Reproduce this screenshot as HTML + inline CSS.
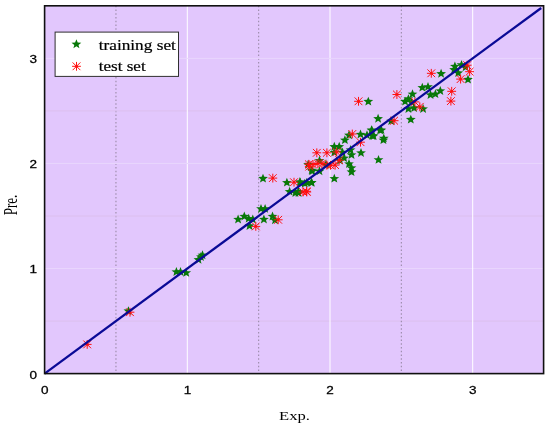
<!DOCTYPE html>
<html><head><meta charset="utf-8"><title>Exp. vs Pre.</title>
<style>html,body{margin:0;padding:0;background:#fff}svg{display:block}text{fill:#000}</style></head><body>
<svg width="550" height="428" viewBox="0 0 550 428">
<rect width="550" height="428" fill="#fff"/>
<rect x="44.60" y="5.80" width="499.00" height="367.80" fill="#E2C7FD"/>
<line x1="115.95" y1="5.80" x2="115.95" y2="373.60" stroke="#9a8aa8" stroke-width="1.1" stroke-dasharray="1.4 2.35"/>
<line x1="44.60" y1="321.07" x2="543.60" y2="321.07" stroke="#dcbfee" stroke-width="1"/>
<line x1="258.65" y1="5.80" x2="258.65" y2="373.60" stroke="#9a8aa8" stroke-width="1.1" stroke-dasharray="1.4 2.35"/>
<line x1="44.60" y1="216.00" x2="543.60" y2="216.00" stroke="#dcbfee" stroke-width="1"/>
<line x1="401.35" y1="5.80" x2="401.35" y2="373.60" stroke="#9a8aa8" stroke-width="1.1" stroke-dasharray="1.4 2.35"/>
<line x1="44.60" y1="110.93" x2="543.60" y2="110.93" stroke="#dcbfee" stroke-width="1"/>
<line x1="187.30" y1="5.80" x2="187.30" y2="373.60" stroke="#ffffff" stroke-width="1"/>
<line x1="44.60" y1="268.53" x2="543.60" y2="268.53" stroke="#e9d6fd" stroke-width="1"/>
<line x1="330.00" y1="5.80" x2="330.00" y2="373.60" stroke="#ffffff" stroke-width="1"/>
<line x1="44.60" y1="163.46" x2="543.60" y2="163.46" stroke="#e9d6fd" stroke-width="1"/>
<line x1="472.70" y1="5.80" x2="472.70" y2="373.60" stroke="#ffffff" stroke-width="1"/>
<line x1="44.60" y1="58.39" x2="543.60" y2="58.39" stroke="#e9d6fd" stroke-width="1"/>
<g fill="#087808">
<polygon points="128.40,306.15 129.70,309.35 133.29,309.54 130.50,311.70 131.42,315.01 128.40,313.16 125.38,315.01 126.30,311.70 123.51,309.54 127.10,309.35"/>
<polygon points="176.40,267.05 177.70,270.25 181.29,270.44 178.50,272.60 179.42,275.91 176.40,274.06 173.38,275.91 174.30,272.60 171.51,270.44 175.10,270.25"/>
<polygon points="180.50,267.05 181.80,270.25 185.39,270.44 182.60,272.60 183.52,275.91 180.50,274.06 177.48,275.91 178.40,272.60 175.61,270.44 179.20,270.25"/>
<polygon points="186.20,267.95 187.50,271.15 191.09,271.34 188.30,273.50 189.22,276.81 186.20,274.96 183.18,276.81 184.10,273.50 181.31,271.34 184.90,271.15"/>
<polygon points="198.50,254.85 199.80,258.05 203.39,258.24 200.60,260.40 201.52,263.71 198.50,261.86 195.48,263.71 196.40,260.40 193.61,258.24 197.20,258.05"/>
<polygon points="200.90,252.05 202.20,255.25 205.79,255.44 203.00,257.60 203.92,260.91 200.90,259.06 197.88,260.91 198.80,257.60 196.01,255.44 199.60,255.25"/>
<polygon points="202.50,250.35 203.80,253.55 207.39,253.74 204.60,255.90 205.52,259.21 202.50,257.36 199.48,259.21 200.40,255.90 197.61,253.74 201.20,253.55"/>
<polygon points="263.00,173.65 264.30,176.85 267.89,177.04 265.10,179.20 266.02,182.51 263.00,180.66 259.98,182.51 260.90,179.20 258.11,177.04 261.70,176.85"/>
<polygon points="286.90,177.75 288.20,180.95 291.79,181.14 289.00,183.30 289.92,186.61 286.90,184.76 283.88,186.61 284.80,183.30 282.01,181.14 285.60,180.95"/>
<polygon points="300.30,177.75 301.60,180.95 305.19,181.14 302.40,183.30 303.32,186.61 300.30,184.76 297.28,186.61 298.20,183.30 295.41,181.14 299.00,180.95"/>
<polygon points="306.80,177.75 308.10,180.95 311.69,181.14 308.90,183.30 309.82,186.61 306.80,184.76 303.78,186.61 304.70,183.30 301.91,181.14 305.50,180.95"/>
<polygon points="311.70,177.75 313.00,180.95 316.59,181.14 313.80,183.30 314.72,186.61 311.70,184.76 308.68,186.61 309.60,183.30 306.81,181.14 310.40,180.95"/>
<polygon points="289.60,186.75 290.90,189.95 294.49,190.14 291.70,192.30 292.62,195.61 289.60,193.76 286.58,195.61 287.50,192.30 284.71,190.14 288.30,189.95"/>
<polygon points="295.40,188.05 296.70,191.25 300.29,191.44 297.50,193.60 298.42,196.91 295.40,195.06 292.38,196.91 293.30,193.60 290.51,191.44 294.10,191.25"/>
<polygon points="298.60,188.05 299.90,191.25 303.49,191.44 300.70,193.60 301.62,196.91 298.60,195.06 295.58,196.91 296.50,193.60 293.71,191.44 297.30,191.25"/>
<polygon points="261.00,203.95 262.30,207.15 265.89,207.34 263.10,209.50 264.02,212.81 261.00,210.96 257.98,212.81 258.90,209.50 256.11,207.34 259.70,207.15"/>
<polygon points="265.10,203.95 266.40,207.15 269.99,207.34 267.20,209.50 268.12,212.81 265.10,210.96 262.08,212.81 263.00,209.50 260.21,207.34 263.80,207.15"/>
<polygon points="238.10,214.55 239.40,217.75 242.99,217.94 240.20,220.10 241.12,223.41 238.10,221.56 235.08,223.41 236.00,220.10 233.21,217.94 236.80,217.75"/>
<polygon points="244.30,211.55 245.60,214.75 249.19,214.94 246.40,217.10 247.32,220.41 244.30,218.56 241.28,220.41 242.20,217.10 239.41,214.94 243.00,214.75"/>
<polygon points="248.70,213.75 250.00,216.95 253.59,217.14 250.80,219.30 251.72,222.61 248.70,220.76 245.68,222.61 246.60,219.30 243.81,217.14 247.40,216.95"/>
<polygon points="252.80,214.55 254.10,217.75 257.69,217.94 254.90,220.10 255.82,223.41 252.80,221.56 249.78,223.41 250.70,220.10 247.91,217.94 251.50,217.75"/>
<polygon points="249.50,221.05 250.80,224.25 254.39,224.44 251.60,226.60 252.52,229.91 249.50,228.06 246.48,229.91 247.40,226.60 244.61,224.44 248.20,224.25"/>
<polygon points="263.90,214.55 265.20,217.75 268.79,217.94 266.00,220.10 266.92,223.41 263.90,221.56 260.88,223.41 261.80,220.10 259.01,217.94 262.60,217.75"/>
<polygon points="272.50,211.55 273.80,214.75 277.39,214.94 274.60,217.10 275.52,220.41 272.50,218.56 269.48,220.41 270.40,217.10 267.61,214.94 271.20,214.75"/>
<polygon points="275.00,215.35 276.30,218.55 279.89,218.74 277.10,220.90 278.02,224.21 275.00,222.36 271.98,224.21 272.90,220.90 270.11,218.74 273.70,218.55"/>
<polygon points="311.70,165.45 313.00,168.65 316.59,168.84 313.80,171.00 314.72,174.31 311.70,172.46 308.68,174.31 309.60,171.00 306.81,168.84 310.40,168.65"/>
<polygon points="344.90,135.25 346.20,138.45 349.79,138.64 347.00,140.80 347.92,144.11 344.90,142.26 341.88,144.11 342.80,140.80 340.01,138.64 343.60,138.45"/>
<polygon points="349.00,130.35 350.30,133.55 353.89,133.74 351.10,135.90 352.02,139.21 349.00,137.36 345.98,139.21 346.90,135.90 344.11,133.74 347.70,133.55"/>
<polygon points="360.50,129.55 361.80,132.75 365.39,132.94 362.60,135.10 363.52,138.41 360.50,136.56 357.48,138.41 358.40,135.10 355.61,132.94 359.20,132.75"/>
<polygon points="367.00,130.35 368.30,133.55 371.89,133.74 369.10,135.90 370.02,139.21 367.00,137.36 363.98,139.21 364.90,135.90 362.11,133.74 365.70,133.55"/>
<polygon points="371.90,125.45 373.20,128.65 376.79,128.84 374.00,131.00 374.92,134.31 371.90,132.46 368.88,134.31 369.80,131.00 367.01,128.84 370.60,128.65"/>
<polygon points="373.60,131.15 374.90,134.35 378.49,134.54 375.70,136.70 376.62,140.01 373.60,138.16 370.58,140.01 371.50,136.70 368.71,134.54 372.30,134.35"/>
<polygon points="380.10,125.45 381.40,128.65 384.99,128.84 382.20,131.00 383.12,134.31 380.10,132.46 377.08,134.31 378.00,131.00 375.21,128.84 378.80,128.65"/>
<polygon points="383.40,135.25 384.70,138.45 388.29,138.64 385.50,140.80 386.42,144.11 383.40,142.26 380.38,144.11 381.30,140.80 378.51,138.64 382.10,138.45"/>
<polygon points="334.30,141.85 335.60,145.05 339.19,145.24 336.40,147.40 337.32,150.71 334.30,148.86 331.28,150.71 332.20,147.40 329.41,145.24 333.00,145.05"/>
<polygon points="339.20,141.85 340.50,145.05 344.09,145.24 341.30,147.40 342.22,150.71 339.20,148.86 336.18,150.71 337.10,147.40 334.31,145.24 337.90,145.05"/>
<polygon points="334.30,147.55 335.60,150.75 339.19,150.94 336.40,153.10 337.32,156.41 334.30,154.56 331.28,156.41 332.20,153.10 329.41,150.94 333.00,150.75"/>
<polygon points="350.60,145.05 351.90,148.25 355.49,148.44 352.70,150.60 353.62,153.91 350.60,152.06 347.58,153.91 348.50,150.60 345.71,148.44 349.30,148.25"/>
<polygon points="351.50,150.05 352.80,153.25 356.39,153.44 353.60,155.60 354.52,158.91 351.50,157.06 348.48,158.91 349.40,155.60 346.61,153.44 350.20,153.25"/>
<polygon points="361.00,148.05 362.30,151.25 365.89,151.44 363.10,153.60 364.02,156.91 361.00,155.06 357.98,156.91 358.90,153.60 356.11,151.44 359.70,151.25"/>
<polygon points="378.50,154.95 379.80,158.15 383.39,158.34 380.60,160.50 381.52,163.81 378.50,161.96 375.48,163.81 376.40,160.50 373.61,158.34 377.20,158.15"/>
<polygon points="349.00,159.05 350.30,162.25 353.89,162.44 351.10,164.60 352.02,167.91 349.00,166.06 345.98,167.91 346.90,164.60 344.11,162.44 347.70,162.25"/>
<polygon points="351.50,163.05 352.80,166.25 356.39,166.44 353.60,168.60 354.52,171.91 351.50,170.06 348.48,171.91 349.40,168.60 346.61,166.44 350.20,166.25"/>
<polygon points="351.50,167.15 352.80,170.35 356.39,170.54 353.60,172.70 354.52,176.01 351.50,174.16 348.48,176.01 349.40,172.70 346.61,170.54 350.20,170.35"/>
<polygon points="334.30,173.75 335.60,176.95 339.19,177.14 336.40,179.30 337.32,182.61 334.30,180.76 331.28,182.61 332.20,179.30 329.41,177.14 333.00,176.95"/>
<polygon points="308.10,159.85 309.40,163.05 312.99,163.24 310.20,165.40 311.12,168.71 308.10,166.86 305.08,168.71 306.00,165.40 303.21,163.24 306.80,163.05"/>
<polygon points="312.20,166.35 313.50,169.55 317.09,169.74 314.30,171.90 315.22,175.21 312.20,173.36 309.18,175.21 310.10,171.90 307.31,169.74 310.90,169.55"/>
<polygon points="319.50,155.75 320.80,158.95 324.39,159.14 321.60,161.30 322.52,164.61 319.50,162.76 316.48,164.61 317.40,161.30 314.61,159.14 318.20,158.95"/>
<polygon points="319.50,166.35 320.80,169.55 324.39,169.74 321.60,171.90 322.52,175.21 319.50,173.36 316.48,175.21 317.40,171.90 314.61,169.74 318.20,169.55"/>
<polygon points="311.40,177.85 312.70,181.05 316.29,181.24 313.50,183.40 314.42,186.71 311.40,184.86 308.38,186.71 309.30,183.40 306.51,181.24 310.10,181.05"/>
<polygon points="304.80,178.65 306.10,181.85 309.69,182.04 306.90,184.20 307.82,187.51 304.80,185.66 301.78,187.51 302.70,184.20 299.91,182.04 303.50,181.85"/>
<polygon points="299.90,177.05 301.20,180.25 304.79,180.44 302.00,182.60 302.92,185.91 299.90,184.06 296.88,185.91 297.80,182.60 295.01,180.44 298.60,180.25"/>
<polygon points="298.30,186.85 299.60,190.05 303.19,190.24 300.40,192.40 301.32,195.71 298.30,193.86 295.28,195.71 296.20,192.40 293.41,190.24 297.00,190.05"/>
<polygon points="344.10,153.25 345.40,156.45 348.99,156.64 346.20,158.80 347.12,162.11 344.10,160.26 341.08,162.11 342.00,158.80 339.21,156.64 342.80,156.45"/>
<polygon points="342.50,147.55 343.80,150.75 347.39,150.94 344.60,153.10 345.52,156.41 342.50,154.56 339.48,156.41 340.40,153.10 337.61,150.94 341.20,150.75"/>
<polygon points="340.00,155.75 341.30,158.95 344.89,159.14 342.10,161.30 343.02,164.61 340.00,162.76 336.98,164.61 337.90,161.30 335.11,159.14 338.70,158.95"/>
<polygon points="326.00,159.85 327.30,163.05 330.89,163.24 328.10,165.40 329.02,168.71 326.00,166.86 322.98,168.71 323.90,165.40 321.11,163.24 324.70,163.05"/>
<polygon points="368.30,96.65 369.60,99.85 373.19,100.04 370.40,102.20 371.32,105.51 368.30,103.66 365.28,105.51 366.20,102.20 363.41,100.04 367.00,99.85"/>
<polygon points="378.10,113.85 379.40,117.05 382.99,117.24 380.20,119.40 381.12,122.71 378.10,120.86 375.08,122.71 376.00,119.40 373.21,117.24 376.80,117.05"/>
<polygon points="371.50,125.25 372.80,128.45 376.39,128.64 373.60,130.80 374.52,134.11 371.50,132.26 368.48,134.11 369.40,130.80 366.61,128.64 370.20,128.45"/>
<polygon points="381.40,125.25 382.70,128.45 386.29,128.64 383.50,130.80 384.42,134.11 381.40,132.26 378.38,134.11 379.30,130.80 376.51,128.64 380.10,128.45"/>
<polygon points="372.40,131.05 373.70,134.25 377.29,134.44 374.50,136.60 375.42,139.91 372.40,138.06 369.38,139.91 370.30,136.60 367.51,134.44 371.10,134.25"/>
<polygon points="383.80,133.45 385.10,136.65 388.69,136.84 385.90,139.00 386.82,142.31 383.80,140.46 380.78,142.31 381.70,139.00 378.91,136.84 382.50,136.65"/>
<polygon points="391.20,116.25 392.50,119.45 396.09,119.64 393.30,121.80 394.22,125.11 391.20,123.26 388.18,125.11 389.10,121.80 386.31,119.64 389.90,119.45"/>
<polygon points="410.80,114.65 412.10,117.85 415.69,118.04 412.90,120.20 413.82,123.51 410.80,121.66 407.78,123.51 408.70,120.20 405.91,118.04 409.50,117.85"/>
<polygon points="405.10,96.65 406.40,99.85 409.99,100.04 407.20,102.20 408.12,105.51 405.10,103.66 402.08,105.51 403.00,102.20 400.21,100.04 403.80,99.85"/>
<polygon points="408.40,94.15 409.70,97.35 413.29,97.54 410.50,99.70 411.42,103.01 408.40,101.16 405.38,103.01 406.30,99.70 403.51,97.54 407.10,97.35"/>
<polygon points="412.50,89.25 413.80,92.45 417.39,92.64 414.60,94.80 415.52,98.11 412.50,96.26 409.48,98.11 410.40,94.80 407.61,92.64 411.20,92.45"/>
<polygon points="411.60,97.45 412.90,100.65 416.49,100.84 413.70,103.00 414.62,106.31 411.60,104.46 408.58,106.31 409.50,103.00 406.71,100.84 410.30,100.65"/>
<polygon points="408.40,104.05 409.70,107.25 413.29,107.44 410.50,109.60 411.42,112.91 408.40,111.06 405.38,112.91 406.30,109.60 403.51,107.44 407.10,107.25"/>
<polygon points="414.10,103.15 415.40,106.35 418.99,106.54 416.20,108.70 417.12,112.01 414.10,110.16 411.08,112.01 412.00,108.70 409.21,106.54 412.80,106.35"/>
<polygon points="423.10,104.05 424.40,107.25 427.99,107.44 425.20,109.60 426.12,112.91 423.10,111.06 420.08,112.91 421.00,109.60 418.21,107.44 421.80,107.25"/>
<polygon points="422.30,82.75 423.60,85.95 427.19,86.14 424.40,88.30 425.32,91.61 422.30,89.76 419.28,91.61 420.20,88.30 417.41,86.14 421.00,85.95"/>
<polygon points="428.00,81.95 429.30,85.15 432.89,85.34 430.10,87.50 431.02,90.81 428.00,88.96 424.98,90.81 425.90,87.50 423.11,85.34 426.70,85.15"/>
<polygon points="430.50,90.05 431.80,93.25 435.39,93.44 432.60,95.60 433.52,98.91 430.50,97.06 427.48,98.91 428.40,95.60 425.61,93.44 429.20,93.25"/>
<polygon points="435.40,89.25 436.70,92.45 440.29,92.64 437.50,94.80 438.42,98.11 435.40,96.26 432.38,98.11 433.30,94.80 430.51,92.64 434.10,92.45"/>
<polygon points="440.30,86.05 441.60,89.25 445.19,89.44 442.40,91.60 443.32,94.91 440.30,93.06 437.28,94.91 438.20,91.60 435.41,89.44 439.00,89.25"/>
<polygon points="441.10,68.85 442.40,72.05 445.99,72.24 443.20,74.40 444.12,77.71 441.10,75.86 438.08,77.71 439.00,74.40 436.21,72.24 439.80,72.05"/>
<polygon points="454.90,61.55 456.20,64.75 459.79,64.94 457.00,67.10 457.92,70.41 454.90,68.56 451.88,70.41 452.80,67.10 450.01,64.94 453.60,64.75"/>
<polygon points="461.50,59.95 462.80,63.15 466.39,63.34 463.60,65.50 464.52,68.81 461.50,66.96 458.48,68.81 459.40,65.50 456.61,63.34 460.20,63.15"/>
<polygon points="454.10,64.85 455.40,68.05 458.99,68.24 456.20,70.40 457.12,73.71 454.10,71.86 451.08,73.71 452.00,70.40 449.21,68.24 452.80,68.05"/>
<polygon points="458.20,68.15 459.50,71.35 463.09,71.54 460.30,73.70 461.22,77.01 458.20,75.16 455.18,77.01 456.10,73.70 453.31,71.54 456.90,71.35"/>
<polygon points="468.00,74.65 469.30,77.85 472.89,78.04 470.10,80.20 471.02,83.51 468.00,81.66 464.98,83.51 465.90,80.20 463.11,78.04 466.70,77.85"/>
<polygon points="465.60,62.35 466.90,65.55 470.49,65.74 467.70,67.90 468.62,71.21 465.60,69.36 462.58,71.21 463.50,67.90 460.71,65.74 464.30,65.55"/>
</g>
<g stroke="#ff1010" stroke-width="1" fill="none">
<path d="M82.80 344.40H91.60M87.20 340.00V348.80M83.33 340.53L91.07 348.27M83.33 348.27L91.07 340.53"/><circle cx="87.20" cy="344.40" r="1.3" fill="#ff1010" stroke="none"/>
<path d="M125.60 312.20H134.40M130.00 307.80V316.60M126.13 308.33L133.87 316.07M126.13 316.07L133.87 308.33"/><circle cx="130.00" cy="312.20" r="1.3" fill="#ff1010" stroke="none"/>
<path d="M268.40 178.10H277.20M272.80 173.70V182.50M268.93 174.23L276.67 181.97M268.93 181.97L276.67 174.23"/><circle cx="272.80" cy="178.10" r="1.3" fill="#ff1010" stroke="none"/>
<path d="M289.60 182.20H298.40M294.00 177.80V186.60M290.13 178.33L297.87 186.07M290.13 186.07L297.87 178.33"/><circle cx="294.00" cy="182.20" r="1.3" fill="#ff1010" stroke="none"/>
<path d="M302.40 192.00H311.20M306.80 187.60V196.40M302.93 188.13L310.67 195.87M302.93 195.87L310.67 188.13"/><circle cx="306.80" cy="192.00" r="1.3" fill="#ff1010" stroke="none"/>
<path d="M298.60 192.00H307.40M303.00 187.60V196.40M299.13 188.13L306.87 195.87M299.13 195.87L306.87 188.13"/><circle cx="303.00" cy="192.00" r="1.3" fill="#ff1010" stroke="none"/>
<path d="M273.80 219.80H282.60M278.20 215.40V224.20M274.33 215.93L282.07 223.67M274.33 223.67L282.07 215.93"/><circle cx="278.20" cy="219.80" r="1.3" fill="#ff1010" stroke="none"/>
<path d="M251.40 226.40H260.20M255.80 222.00V230.80M251.93 222.53L259.67 230.27M251.93 230.27L259.67 222.53"/><circle cx="255.80" cy="226.40" r="1.3" fill="#ff1010" stroke="none"/>
<path d="M304.90 166.60H313.70M309.30 162.20V171.00M305.43 162.73L313.17 170.47M305.43 170.47L313.17 162.73"/><circle cx="309.30" cy="166.60" r="1.3" fill="#ff1010" stroke="none"/>
<path d="M347.90 134.00H356.70M352.30 129.60V138.40M348.43 130.13L356.17 137.87M348.43 137.87L356.17 130.13"/><circle cx="352.30" cy="134.00" r="1.3" fill="#ff1010" stroke="none"/>
<path d="M356.10 142.20H364.90M360.50 137.80V146.60M356.63 138.33L364.37 146.07M356.63 146.07L364.37 138.33"/><circle cx="360.50" cy="142.20" r="1.3" fill="#ff1010" stroke="none"/>
<path d="M312.40 152.80H321.20M316.80 148.40V157.20M312.93 148.93L320.67 156.67M312.93 156.67L320.67 148.93"/><circle cx="316.80" cy="152.80" r="1.3" fill="#ff1010" stroke="none"/>
<path d="M322.50 152.80H331.30M326.90 148.40V157.20M323.03 148.93L330.77 156.67M323.03 156.67L330.77 148.93"/><circle cx="326.90" cy="152.80" r="1.3" fill="#ff1010" stroke="none"/>
<path d="M332.30 152.00H341.10M336.70 147.60V156.40M332.83 148.13L340.57 155.87M332.83 155.87L340.57 148.13"/><circle cx="336.70" cy="152.00" r="1.3" fill="#ff1010" stroke="none"/>
<path d="M304.50 164.30H313.30M308.90 159.90V168.70M305.03 160.43L312.77 168.17M305.03 168.17L312.77 160.43"/><circle cx="308.90" cy="164.30" r="1.3" fill="#ff1010" stroke="none"/>
<path d="M313.50 163.50H322.30M317.90 159.10V167.90M314.03 159.63L321.77 167.37M314.03 167.37L321.77 159.63"/><circle cx="317.90" cy="163.50" r="1.3" fill="#ff1010" stroke="none"/>
<path d="M322.50 165.10H331.30M326.90 160.70V169.50M323.03 161.23L330.77 168.97M323.03 168.97L330.77 161.23"/><circle cx="326.90" cy="165.10" r="1.3" fill="#ff1010" stroke="none"/>
<path d="M330.70 165.10H339.50M335.10 160.70V169.50M331.23 161.23L338.97 168.97M331.23 168.97L338.97 161.23"/><circle cx="335.10" cy="165.10" r="1.3" fill="#ff1010" stroke="none"/>
<path d="M334.80 160.20H343.60M339.20 155.80V164.60M335.33 156.33L343.07 164.07M335.33 164.07L343.07 156.33"/><circle cx="339.20" cy="160.20" r="1.3" fill="#ff1010" stroke="none"/>
<path d="M302.10 191.30H310.90M306.50 186.90V195.70M302.63 187.43L310.37 195.17M302.63 195.17L310.37 187.43"/><circle cx="306.50" cy="191.30" r="1.3" fill="#ff1010" stroke="none"/>
<path d="M308.60 164.50H317.40M313.00 160.10V168.90M309.13 160.63L316.87 168.37M309.13 168.37L316.87 160.63"/><circle cx="313.00" cy="164.50" r="1.3" fill="#ff1010" stroke="none"/>
<path d="M317.60 163.60H326.40M322.00 159.20V168.00M318.13 159.73L325.87 167.47M318.13 167.47L325.87 159.73"/><circle cx="322.00" cy="163.60" r="1.3" fill="#ff1010" stroke="none"/>
<path d="M326.10 165.30H334.90M330.50 160.90V169.70M326.63 161.43L334.37 169.17M326.63 169.17L334.37 161.43"/><circle cx="330.50" cy="165.30" r="1.3" fill="#ff1010" stroke="none"/>
<path d="M392.50 94.50H401.30M396.90 90.10V98.90M393.03 90.63L400.77 98.37M393.03 98.37L400.77 90.63"/><circle cx="396.90" cy="94.50" r="1.3" fill="#ff1010" stroke="none"/>
<path d="M426.90 73.30H435.70M431.30 68.90V77.70M427.43 69.43L435.17 77.17M427.43 77.17L435.17 69.43"/><circle cx="431.30" cy="73.30" r="1.3" fill="#ff1010" stroke="none"/>
<path d="M447.30 91.30H456.10M451.70 86.90V95.70M447.83 87.43L455.57 95.17M447.83 95.17L455.57 87.43"/><circle cx="451.70" cy="91.30" r="1.3" fill="#ff1010" stroke="none"/>
<path d="M446.50 101.10H455.30M450.90 96.70V105.50M447.03 97.23L454.77 104.97M447.03 104.97L454.77 97.23"/><circle cx="450.90" cy="101.10" r="1.3" fill="#ff1010" stroke="none"/>
<path d="M354.10 101.30H362.90M358.50 96.90V105.70M354.63 97.43L362.37 105.17M354.63 105.17L362.37 97.43"/><circle cx="358.50" cy="101.30" r="1.3" fill="#ff1010" stroke="none"/>
<path d="M410.50 101.90H419.30M414.90 97.50V106.30M411.03 98.03L418.77 105.77M411.03 105.77L418.77 98.03"/><circle cx="414.90" cy="101.90" r="1.3" fill="#ff1010" stroke="none"/>
<path d="M415.40 106.80H424.20M419.80 102.40V111.20M415.93 102.93L423.67 110.67M415.93 110.67L423.67 102.93"/><circle cx="419.80" cy="106.80" r="1.3" fill="#ff1010" stroke="none"/>
<path d="M389.70 120.70H398.50M394.10 116.30V125.10M390.23 116.83L397.97 124.57M390.23 124.57L397.97 116.83"/><circle cx="394.10" cy="120.70" r="1.3" fill="#ff1010" stroke="none"/>
<path d="M462.80 65.20H471.60M467.20 60.80V69.60M463.33 61.33L471.07 69.07M463.33 69.07L471.07 61.33"/><circle cx="467.20" cy="65.20" r="1.3" fill="#ff1010" stroke="none"/>
<path d="M465.20 71.70H474.00M469.60 67.30V76.10M465.73 67.83L473.47 75.57M465.73 75.57L473.47 67.83"/><circle cx="469.60" cy="71.70" r="1.3" fill="#ff1010" stroke="none"/>
<path d="M456.20 79.10H465.00M460.60 74.70V83.50M456.73 75.23L464.47 82.97M456.73 82.97L464.47 75.23"/><circle cx="460.60" cy="79.10" r="1.3" fill="#ff1010" stroke="none"/>
</g>
<line x1="44.60" y1="373.60" x2="541.20" y2="7.96" stroke="#0a0a96" stroke-width="2.3"/>
<rect x="44.60" y="5.80" width="499.00" height="367.80" fill="none" stroke="#101010" stroke-width="1.6"/>
<rect x="55.1" y="32.1" width="123.4" height="44.3" fill="#fff" stroke="#303030" stroke-width="1"/>
<g fill="#087808"><polygon points="76.40,39.35 77.70,42.55 81.29,42.74 78.50,44.90 79.42,48.21 76.40,46.36 73.38,48.21 74.30,44.90 71.51,42.74 75.10,42.55"/></g>
<g stroke="#ff1010" stroke-width="1" fill="none"><path d="M72.10 66.30H80.90M76.50 61.90V70.70M72.63 62.43L80.37 70.17M72.63 70.17L80.37 62.43"/><circle cx="76.50" cy="66.30" r="1.3" fill="#ff1010" stroke="none"/></g>
<g font-family="'Liberation Serif', serif" font-size="15.3" stroke="#000" stroke-width="0.2">
<text x="98.7" y="49.5" textLength="77.2" lengthAdjust="spacingAndGlyphs">training set</text>
<text x="98.7" y="71.3" textLength="47" lengthAdjust="spacingAndGlyphs">test set</text>
<text transform="translate(279.1,420.4) scale(1.3,1)" font-size="12.8" stroke="none">Exp.</text>
<text transform="translate(16.8,215.2) rotate(-90) scale(1,1.45)" font-size="13" stroke="none">Pre.</text>
</g>
<g font-family="'Liberation Sans', sans-serif" font-size="10.4" stroke="#000" stroke-width="0.25">
<text transform="translate(44.85,393.5) scale(1.3,1)" text-anchor="middle">0</text>
<text transform="translate(37.1,378.50) scale(1.3,1)" text-anchor="end">0</text>
<text transform="translate(187.45,393.5) scale(1.3,1)" text-anchor="middle">1</text>
<text transform="translate(37.1,273.23) scale(1.3,1)" text-anchor="end">1</text>
<text transform="translate(330.05,393.5) scale(1.3,1)" text-anchor="middle">2</text>
<text transform="translate(37.1,167.96) scale(1.3,1)" text-anchor="end">2</text>
<text transform="translate(472.65,393.5) scale(1.3,1)" text-anchor="middle">3</text>
<text transform="translate(37.1,62.69) scale(1.3,1)" text-anchor="end">3</text>
</g>
</svg></body></html>
